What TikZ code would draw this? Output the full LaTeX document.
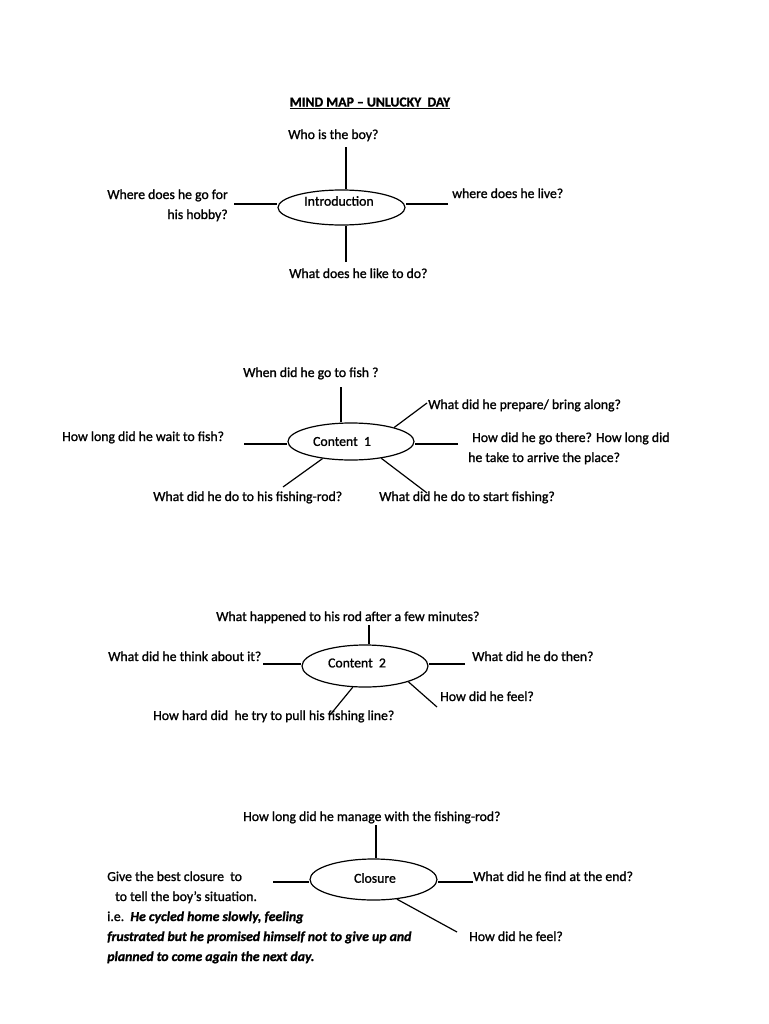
\documentclass[tikz,border=0pt]{standalone}
\usepackage{fontspec}
\setmainfont{Carlito}[FakeBold=1.2]
\usetikzlibrary{shapes.geometric}
\begin{document}
\begin{tikzpicture}[x=0.75pt,y=-0.75pt,
  every node/.append style={font=\fontsize{10.3pt}{15pt}\selectfont, inner sep=0pt},
  txt/.style={anchor=base west, align=left},
  txtr/.style={anchor=base east, align=right},
  bubble/.style={ellipse, draw, line width=0.9pt, inner sep=0pt},
  conn/.style={line width=0.9pt},
]
\fill[white] (0,0) rectangle (768,1024);
\useasboundingbox (0,0) rectangle (768,1024);

% title
\node[anchor=base, font=\fontsize{10.3pt}{15pt}\selectfont\bfseries] (title) at (370,106.5) {\underline{MIND MAP – UNLUCKY\ \ DAY}};

% ---------- Introduction ----------
\node[bubble, minimum width=95.25pt, minimum height=26.25pt,
  label={[xshift=-1.9pt,yshift=4.9pt]center:Introduction}] (intro) at (341.5,207.5) {};
\node[txt] (q1) at (288,139) {Who is the boy?};
\node[txtr] (q2) at (228,219) {Where does he go for\\his hobby?};
\node[txt] (q3) at (452,198) {where does he live?};
\node[txt] (q4) at (289,278) {What does he like to do?};
\coordinate (i1) at (346,147);
\coordinate (i2) at (234,204);
\coordinate (i3) at (448,204);
\coordinate (i4) at (346,262);
\draw[conn] (i1) -- (i1 |- intro.north);
\draw[conn] (i2) -- (i2 -| intro.west);
\draw[conn] (i3) -- (i3 -| intro.east);
\draw[conn] (i4) -- (i4 |- intro.south);

% ---------- Content 1 ----------
\node[bubble, minimum width=94.5pt, minimum height=27.75pt,
  label={[xshift=-6.75pt]center:Content\ \ 1}] (c1) at (351,441.5) {};
\node[txt] (a1) at (243,377) {When did he go to fish ?};
\node[txt] (a2) at (428,409) {What did he prepare/ bring along?};
\node[txt] (a3) at (62,441) {How long did he wait to fish?};
\node[txt] (a4) at (468,462) {\hspace*{3pt}How did he go there? How long did\\he take to arrive the place?};
\node[txt] (a5) at (153,501) {What did he do to his fishing-rod?};
\node[txt] (a6) at (379,501) {What did he do to start fishing?};
\coordinate (k1) at (341,387);
\coordinate (k2) at (427,403);
\coordinate (k3) at (244,444);
\coordinate (k4) at (458,444);
\coordinate (k5) at (283,487);
\coordinate (k6) at (427,493);
\draw[conn] (k1) -- (k1 |- c1.north);
\draw[conn] (c1.18) -- (k2);
\draw[conn] (k3) -- (k3 -| c1.west);
\draw[conn] (k4) -- (k4 -| c1.east);
\draw[conn] (c1.211) -- (k5);
\draw[conn] (c1.331) -- (k6);

% ---------- Content 2 ----------
\node[bubble, minimum width=94.5pt, minimum height=31.5pt,
  label={[xshift=-6pt,yshift=2.25pt]center:Content\ \ 2}] (c2) at (365,666) {};
\node[txt] (b1) at (216,621) {What happened to his rod after a few minutes?};
\node[txt] (b2) at (108,661) {What did he think about it?};
\node[txt] (b3) at (472,661) {What did he do then?};
\node[txt] (b4) at (440,701) {How did he feel?};
\node[txt] (b5) at (153,720) {How hard did\ \ he try to pull his fishing line?};
\coordinate (m1) at (369,625);
\coordinate (m2) at (263,664);
\coordinate (m3) at (465,664);
\coordinate (m4) at (437,707);
\coordinate (m5) at (330,715);
\draw[conn] (m1) -- (m1 |- c2.north);
\draw[conn] (m2) -- (m2 -| c2.west);
\draw[conn] (m3) -- (m3 -| c2.east);
\draw[conn] (c2.340) -- (m4);
\draw[conn] (c2.240) -- (m5);

% ---------- Closure ----------
\node[bubble, minimum width=95.25pt, minimum height=30.75pt,
  label={[xshift=1.1pt,yshift=1.1pt]center:Closure}] (cl) at (373.5,879.5) {};
\node[txt] (d1) at (243,821) {How long did he manage with the fishing-rod?};
\node[txt] (d2) at (473,881) {What did he find at the end?};
\node[txt] (d3) at (469,941) {How did he feel?};
\node[txt] (d4) at (107,961) {Give the best closure\ \ to\\
  \hspace*{6pt}to tell the boy’s situation.\\
  i.e.\ \ \textbf{\itshape He cycled home slowly, feeling}\\
  \textbf{\itshape frustrated but he promised himself not to give up and}\\
  \textbf{\itshape planned to come again the next day.}};
\coordinate (n1) at (376,825);
\coordinate (n2) at (273,882);
\coordinate (n3) at (473,882);
\coordinate (n4) at (457,932);
\draw[conn] (n1) -- (n1 |- cl.north);
\draw[conn] (n2) -- (n2 -| cl.west);
\draw[conn] (n3) -- (n3 -| cl.east);
\draw[conn] (cl.320) -- (n4);
\end{tikzpicture}
\end{document}
